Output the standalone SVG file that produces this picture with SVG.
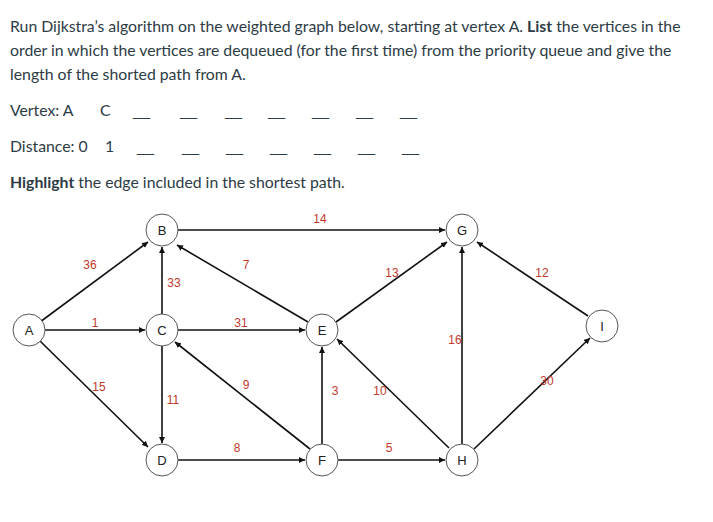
<svg xmlns="http://www.w3.org/2000/svg" width="713" height="522" viewBox="0 0 713 522">
<style>
.t{font-family:Lato,"Liberation Sans",sans-serif;font-size:15.8px;fill:#2d3b45}
.u{font-family:"Liberation Sans",Arial,sans-serif;font-size:15px;fill:#2d3b45}
.n circle{fill:#fff;stroke:#555;stroke-width:1}
.n text{font-family:"Liberation Sans",Arial,sans-serif;font-size:13px;fill:#222;text-anchor:middle}
.e line{stroke:#111;stroke-width:1.6;marker-end:url(#ah)}
.w{font-family:"Liberation Sans",Arial,sans-serif;font-size:12px;fill:#c0392b;text-anchor:middle}
</style>
<defs><marker id="ah" viewBox="0 0 10 10" refX="10" refY="5" markerWidth="6" markerHeight="6" orient="auto" markerUnits="userSpaceOnUse"><path d="M0,0L10,5L0,10z" fill="#111"/></marker></defs>
<rect width="713" height="522" fill="#fff"/>
<text class="t" x="10" y="32">Run Dijkstra’s algorithm on the weighted graph below, starting at vertex A. <tspan font-weight="bold">List</tspan> the vertices in the</text>
<text class="t" x="10" y="56">order in which the vertices are dequeued (for the first time) from the priority queue and give the</text>
<text class="t" x="10" y="80">length of the shorted path from A.</text>
<text class="t" x="10" y="116">Vertex: A</text>
<text class="t" x="100" y="116">C</text>
<g class="u">
<text x="133" y="116" textLength="17" lengthAdjust="spacingAndGlyphs">__</text>
<text x="180" y="116" textLength="17" lengthAdjust="spacingAndGlyphs">__</text>
<text x="225" y="116" textLength="17" lengthAdjust="spacingAndGlyphs">__</text>
<text x="268" y="116" textLength="17" lengthAdjust="spacingAndGlyphs">__</text>
<text x="312" y="116" textLength="17" lengthAdjust="spacingAndGlyphs">__</text>
<text x="356" y="116" textLength="17" lengthAdjust="spacingAndGlyphs">__</text>
<text x="400" y="116" textLength="17" lengthAdjust="spacingAndGlyphs">__</text>
<text x="137" y="152" textLength="17" lengthAdjust="spacingAndGlyphs">__</text>
<text x="182" y="152" textLength="17" lengthAdjust="spacingAndGlyphs">__</text>
<text x="226" y="152" textLength="17" lengthAdjust="spacingAndGlyphs">__</text>
<text x="270" y="152" textLength="17" lengthAdjust="spacingAndGlyphs">__</text>
<text x="314" y="152" textLength="17" lengthAdjust="spacingAndGlyphs">__</text>
<text x="358" y="152" textLength="17" lengthAdjust="spacingAndGlyphs">__</text>
<text x="402" y="152" textLength="17" lengthAdjust="spacingAndGlyphs">__</text>
</g>
<text class="t" x="10" y="152">Distance: 0</text>
<text class="t" x="105" y="152">1</text>
<text class="t" x="10" y="188"><tspan font-weight="bold">Highlight</tspan> the edge included in the shortest path.</text>
<g id="connectors" class="e">
<line x1="40" y1="322" x2="148" y2="242"/>
<line x1="45" y1="330" x2="145" y2="330"/>
<line x1="40" y1="341" x2="148" y2="447"/>
<line x1="162" y1="314" x2="162" y2="247"/>
<line x1="308" y1="322" x2="177" y2="245"/>
<line x1="178" y1="230" x2="445" y2="230"/>
<line x1="178" y1="330" x2="305" y2="330"/>
<line x1="162" y1="346" x2="162" y2="443"/>
<line x1="310" y1="449" x2="175" y2="342"/>
<line x1="178" y1="460" x2="305" y2="460"/>
<line x1="322" y1="444" x2="322" y2="347"/>
<line x1="336" y1="322" x2="447" y2="242"/>
<line x1="449" y1="448" x2="337" y2="339"/>
<line x1="338" y1="460" x2="445" y2="460"/>
<line x1="462" y1="444" x2="462" y2="247"/>
<line x1="588" y1="316" x2="477" y2="242"/>
<line x1="474" y1="449" x2="590" y2="338"/>
</g>
<g class="w">
<text x="90" y="269">36</text><text x="95" y="327">1</text><text x="99" y="391">15</text>
<text x="174" y="287">33</text><text x="246" y="269">7</text><text x="320" y="223">14</text>
<text x="241" y="327">31</text><text x="173" y="404">11</text><text x="246" y="389">9</text>
<text x="237" y="452">8</text><text x="335" y="395">3</text><text x="392" y="277">13</text>
<text x="380" y="395">10</text><text x="455" y="344">16</text><text x="389" y="452">5</text>
<text x="542" y="277">12</text><text x="547" y="385">30</text>
</g>
<g id="A" class="n"><circle cx="29" cy="330" r="16"/><text x="29" y="335">A</text></g>
<g id="B" class="n"><circle cx="162" cy="230" r="16"/><text x="162" y="235">B</text></g>
<g id="C" class="n"><circle cx="162" cy="330" r="16"/><text x="162" y="335">C</text></g>
<g id="D" class="n"><circle cx="162" cy="460" r="16"/><text x="162" y="465">D</text></g>
<g id="E" class="n"><circle cx="322" cy="330" r="16"/><text x="322" y="335">E</text></g>
<g id="F" class="n"><circle cx="322" cy="460" r="16"/><text x="322" y="465">F</text></g>
<g id="G" class="n"><circle cx="462" cy="230" r="16"/><text x="462" y="235">G</text></g>
<g id="H" class="n"><circle cx="462" cy="460" r="16"/><text x="462" y="465">H</text></g>
<g id="I" class="n"><circle cx="602" cy="326" r="16"/><text x="602" y="331">I</text></g>
</svg>
